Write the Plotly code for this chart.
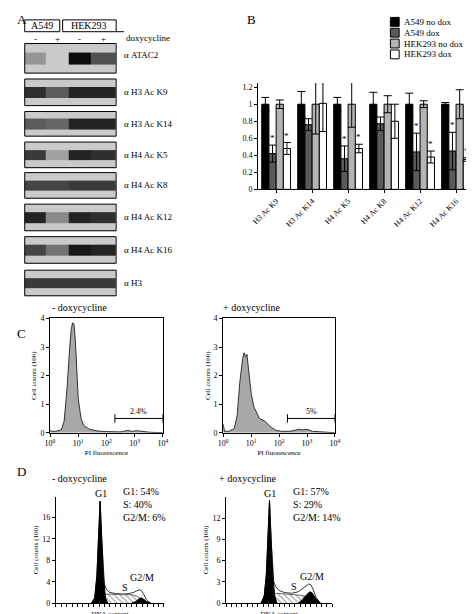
import plotly.graph_objects as go

W, H = 474, 614
SERIF = "Liberation Serif"

# ---------- Panel A data (blot band intensities, lanes: A549 -, A549 +, HEK293 -, HEK293 +)
blot_labels = ["α ATAC2", "α H3 Ac K9", "α H3 Ac K14", "α H4 Ac K5", "α H4 Ac K8", "α H4 Ac K12", "α H4 Ac K16", "α H3"]
blot_bands = [
    [0.35, 0.12, 0.95, 0.65],
    [0.8, 0.6, 0.85, 0.85],
    [0.6, 0.55, 0.85, 0.85],
    [0.75, 0.3, 0.85, 0.8],
    [0.7, 0.7, 0.75, 0.75],
    [0.85, 0.4, 0.85, 0.8],
    [0.7, 0.5, 0.9, 0.85],
    [0.75, 0.75, 0.75, 0.75],
]
lane_signs = ["-", "+", "-", "+"]

# ---------- Panel B data
categories = ["H3 Ac K9", "H3 Ac K14", "H4 Ac K5", "H4 Ac K8", "H4 Ac K12", "H4 Ac K16"]
series_names = ["A549 no dox", "A549 dox", "HEK293 no dox", "HEK293 dox"]
series_vals = [
    [1, 1, 1, 1, 1, 1],
    [0.42, 0.76, 0.36, 0.77, 0.44, 0.45],
    [1, 1, 1, 1, 1, 1],
    [0.48, 1.01, 0.48, 0.8, 0.38, 0.35],
]
series_err = [
    [0.08, 0.15, 0.08, 0.14, 0.13, 0.02],
    [0.1, 0.07, 0.15, 0.08, 0.22, 0.22],
    [0.05, 0.35, 0.27, 0.1, 0.04, 0.17],
    [0.07, 0.33, 0.05, 0.2, 0.07, 0.02],
]
series_colors = ["#000000", "#5a5a5a", "#b4b4b4", "#ffffff"]
starred = [True, False, True, False, True, True]

# ---------- Panel C data (log10 PI fluorescence, counts/100)
c_left_lx = [0, 0.05, 0.2, 0.4, 0.5, 0.6, 0.7, 0.75, 0.8, 0.85, 0.9, 0.95, 1.0, 1.1, 1.2, 1.4, 1.7, 2.0, 2.5, 2.75, 2.9, 3.1, 3.5, 4]
c_left_y = [0.1, 0.05, 0.05, 0.1, 0.4, 1.5, 3.0, 3.6, 3.85, 3.8, 3.2, 2.0, 1.2, 0.5, 0.25, 0.12, 0.06, 0.04, 0.03, 0.08, 0.05, 0.07, 0.02, 0]
c_right_lx = [0, 0.05, 0.2, 0.4, 0.5, 0.6, 0.7, 0.75, 0.8, 0.85, 0.9, 1.0, 1.1, 1.2, 1.3, 1.5, 1.7, 1.9, 2.1, 2.4, 2.6, 2.7, 2.85, 3.0, 3.2, 3.5, 4]
c_right_y = [0.3, 0.05, 0.05, 0.15, 0.6, 1.8, 2.6, 2.8, 2.65, 2.75, 2.3, 1.4, 0.9, 0.7, 0.5, 0.4, 0.2, 0.08, 0.05, 0.05, 0.1, 0.12, 0.1, 0.12, 0.05, 0.03, 0]
c_gate_lx = [2.3, 4]
c_gate_y = 0.5
c_labels = ["2.4%", "5%"]
c_tickvals = [1, 10, 100, 1000, 10000]
c_ticktext = ["10<sup>0</sup>", "10<sup>1</sup>", "10<sup>2</sup>", "10<sup>3</sup>", "10<sup>4</sup>"]

# ---------- Panel D data (DNA content 0-100, counts/100)
dL_tot_x = [33, 36, 38, 39.5, 41, 42.5, 44, 45, 47, 50, 55, 62, 68, 72, 75, 77, 79, 81, 84, 88]
dL_tot_y = [0, 1, 5, 12, 19, 12, 5, 3.5, 2.5, 2.0, 1.8, 1.7, 1.8, 2.0, 2.3, 2.5, 2.4, 1.8, 0.6, 0]
dL_g1_x = [33, 36, 38, 39.5, 41, 42.5, 44, 46, 48]
dL_g1_y = [0, 1, 5, 12, 19, 12, 5, 1, 0]
dL_s_x = [38, 44, 48, 55, 62, 68, 72, 76, 80, 84]
dL_s_y = [0, 1.6, 1.7, 1.6, 1.6, 1.6, 1.5, 1.2, 0.6, 0]
dL_g2_x = [70, 74, 77, 79, 81, 84, 88]
dL_g2_y = [0, 0.3, 0.8, 1.0, 0.8, 0.3, 0]

dR_tot_x = [33, 36, 38, 39.5, 41, 42.5, 44, 45, 47, 50, 55, 62, 68, 72, 75, 78, 80, 82, 85, 89]
dR_tot_y = [0, 1, 4, 9, 14.5, 9, 4, 3, 2.3, 1.8, 1.5, 1.4, 1.6, 2.0, 2.4, 2.7, 2.6, 2.0, 0.8, 0]
dR_g1_x = [33, 36, 38, 39.5, 41, 42.5, 44, 46, 48]
dR_g1_y = [0, 1, 4, 9, 14.5, 9, 4, 1, 0]
dR_s_x = [38, 44, 48, 55, 62, 68, 72, 76, 80, 84]
dR_s_y = [0, 1.3, 1.4, 1.3, 1.2, 1.2, 1.1, 0.9, 0.5, 0]
dR_g2_x = [68, 72, 76, 79, 81, 84, 89]
dR_g2_y = [0, 0.5, 1.2, 1.6, 1.5, 0.8, 0]
d_stats = ["G1: 54%<br>S: 40%<br>G2/M: 6%", "G1: 57%<br>S: 29%<br>G2/M: 14%"]

fig = go.Figure()

def px_x(x): return x / W
def px_y(y): return 1 - y / H

ax_font = dict(family=SERIF, size=8, color="black")

# ---------- Panel A: pixel-space axes
blot_rows = [(32, 62), (68, 95), (101, 126), (132, 158), (163, 189), (195, 222), (228, 255), (262, 288)]
lane_edges = [10, 32, 55, 78, 104]
for (top, bot), bands in zip(blot_rows, blot_bands):
    h = bot - top
    fig.add_trace(go.Heatmap(
        x=lane_edges, y=[top, top + 0.3 * h, top + 0.72 * h, bot],
        z=[[0.12] * 4, bands, [0.12] * 4],
        zmin=0, zmax=1, colorscale=[[0, "#e6e6e6"], [1, "#000000"]],
        showscale=False, xaxis="x9", yaxis="y9", hoverinfo="skip"))
    fig.add_shape(type="rect", x0=10, x1=104, y0=top, y1=bot, xref="x9", yref="y9",
                  line=dict(color="black", width=1))

def pnote(x, y, t, size=9, xanchor="left", yanchor="middle"):
    fig.add_annotation(x=x, y=y, text=t, xref="x9", yref="y9", showarrow=False, xanchor=xanchor,
                       yanchor=yanchor, align="left", font=dict(family=SERIF, size=size, color="black"))

for lab, (top, bot) in zip(blot_labels, blot_rows):
    pnote(110, (top + bot) / 2 + (-3 if lab == "α ATAC2" else 0), lab)
for i, s in enumerate(lane_signs):
    pnote((lane_edges[i] + lane_edges[i + 1]) / 2, 27, s, xanchor="center")
pnote(112, 26, "doxycycline")
for x0, x1, t in [(10, 46, "A549"), (49, 104, "HEK293")]:
    fig.add_shape(type="rect", x0=x0, x1=x1, y0=8, y1=20, xref="x9", yref="y9", line=dict(color="black", width=1))
    pnote((x0 + x1) / 2, 14, t, size=10, xanchor="center")
fig.add_shape(type="line", x0=104, x1=112, y0=20, y1=20, xref="x9", yref="y9", line=dict(color="black", width=1))
for letter, x, y in [("A", 0, 8), ("B", 236, 8), ("C", 0, 326), ("D", 0, 466)]:
    pnote(x, y, letter, size=13)

# ---------- Panel B
for name, vals, errs, col in zip(series_names, series_vals, series_err, series_colors):
    fig.add_trace(go.Bar(x=categories, y=vals, name=name, marker=dict(color=col, line=dict(color="black", width=1)),
                         error_y=dict(type="data", array=errs, color="black", thickness=1, width=4),
                         xaxis="x", yaxis="y", showlegend=False))
for ci, (cat, st) in enumerate(zip(categories, starred)):
    if st:
        for si, off in [(1, -0.11), (3, 0.28)]:
            fig.add_annotation(x=ci + off, y=series_vals[si][ci] + series_err[si][ci], text="*",
                               xref="x", yref="y", showarrow=False, font=dict(family=SERIF, size=9), yanchor="bottom")
# manual compact legend
for i, (name, col) in enumerate(zip(series_names, series_colors)):
    yc = 10 + 11 * i
    fig.add_shape(type="rect", x0=386, x1=395, y0=yc - 4.5, y1=yc + 4.5, xref="x9", yref="y9",
                  fillcolor=col, line=dict(color="black", width=1))
    pnote(398, yc, name, size=9)

# ---------- Panel C
for xa, ya, lx, yy, lab in [("x2", "y2", c_left_lx, c_left_y, c_labels[0]), ("x3", "y3", c_right_lx, c_right_y, c_labels[1])]:
    fig.add_trace(go.Scatter(x=[10 ** v for v in lx], y=yy, mode="lines", fill="tozeroy",
                             fillcolor="#a8a8a8", line=dict(color="#333", width=1), xaxis=xa, yaxis=ya, showlegend=False))
    fig.add_trace(go.Scatter(x=[10 ** v for v in c_gate_lx], y=[c_gate_y] * 2, mode="lines+markers",
                             marker=dict(symbol="line-ns", size=6, line=dict(width=1, color="black")),
                             line=dict(color="black", width=1), xaxis=xa, yaxis=ya, showlegend=False))
    fig.add_annotation(x=3.15, y=c_gate_y, text=lab, xref=xa, yref=ya, showarrow=False, yanchor="bottom",
                       font=dict(family=SERIF, size=8))

# ---------- Panel D
for xa, ya, tx, ty, gx, gy, sx, sy, g2x, g2y in [
    ("x4", "y4", dL_tot_x, dL_tot_y, dL_g1_x, dL_g1_y, dL_s_x, dL_s_y, dL_g2_x, dL_g2_y),
    ("x5", "y5", dR_tot_x, dR_tot_y, dR_g1_x, dR_g1_y, dR_s_x, dR_s_y, dR_g2_x, dR_g2_y)]:
    fig.add_trace(go.Scatter(x=tx, y=ty, mode="lines", fill="tozeroy", fillcolor="white",
                             line=dict(color="#333", width=1), xaxis=xa, yaxis=ya, showlegend=False))
    fig.add_trace(go.Scatter(x=sx, y=sy, mode="lines", fill="tozeroy", fillcolor="white",
                             fillpattern=dict(shape="\\", fgcolor="#444", size=4, solidity=0.3),
                             line=dict(color="#444", width=0.8), xaxis=xa, yaxis=ya, showlegend=False))
    for X, Y in [(gx, gy), (g2x, g2y)]:
        fig.add_trace(go.Scatter(x=X, y=Y, mode="lines", fill="tozeroy", fillcolor="black",
                                 line=dict(color="black", width=1), xaxis=xa, yaxis=ya, showlegend=False))

def annot(xa, ya, x, y, t, size=10):
    fig.add_annotation(x=x, y=y, text=t, xref=xa, yref=ya, showarrow=False,
                       font=dict(family=SERIF, size=size))

pnote(88, 489, "G1", size=10, xanchor="center")
pnote(109, 500, d_stats[0], size=10)
annot("x4", "y4", 64, 3.0, "S")
annot("x4", "y4", 80, 4.8, "G2/M")
pnote(262, 489, "G1", size=10, xanchor="center")
pnote(284, 500, d_stats[1], size=10)
annot("x5", "y5", 64, 2.4, "S")
annot("x5", "y5", 81, 3.8, "G2/M")

for t, x, y in [("- doxycycline", 36, 300), ("+ doxycycline", 212, 300), ("- doxycycline", 36, 473), ("+ doxycycline", 208, 473)]:
    pnote(x, y, t, size=10)

common = dict(showline=True, linecolor="black", linewidth=1, ticks="outside", ticklen=3, tickcolor="black",
              tickfont=ax_font, showgrid=False, zeroline=False)
cty = dict(text="Cell counts (100)", font=dict(family=SERIF, size=7), standoff=2)
pif = dict(text="PI fluorescence", font=dict(family=SERIF, size=7), standoff=2)
dnat = dict(text="DNA content", font=dict(family=SERIF, size=7), standoff=4)
layout = dict(
    width=W, height=H, margin=dict(l=0, r=0, t=0, b=0), paper_bgcolor="white", plot_bgcolor="rgba(0,0,0,0)",
    font=dict(family=SERIF, color="black"), showlegend=False,
    barmode="group", bargap=0.2, bargroupgap=0,
    xaxis=dict(domain=[px_x(250), px_x(472)], anchor="y", tickangle=-45, **common),
    yaxis=dict(domain=[px_y(180), px_y(72)], anchor="x", range=[0, 1.25], tickvals=[0, 0.2, 0.4, 0.6, 0.8, 1, 1.2],
               ticktext=["0", "0.2", "0.4", "0.6", "0.8", "1", "1.2"], **common),
    xaxis2=dict(domain=[px_x(36), px_x(152)], anchor="y2", type="log", range=[0, 4],
                tickvals=c_tickvals, ticktext=c_ticktext, mirror=True, title=pif, **common),
    yaxis2=dict(domain=[px_y(427), px_y(311)], anchor="x2", range=[0, 4], dtick=1, mirror=True, title=cty, **common),
    xaxis3=dict(domain=[px_x(214), px_x(329)], anchor="y3", type="log", range=[0, 4],
                tickvals=c_tickvals, ticktext=c_ticktext, mirror=True, title=pif, **common),
    yaxis3=dict(domain=[px_y(427), px_y(311)], anchor="x3", range=[0, 4], dtick=1, mirror=True, title=cty, **common),
    xaxis4=dict(domain=[px_x(42), px_x(153)], anchor="y4", range=[0, 100], showticklabels=False, dtick=5,
                title=dnat, **common),
    yaxis4=dict(domain=[px_y(600), px_y(492)], anchor="x4", range=[0, 19.8], tickvals=[0, 4, 8, 12, 16], title=cty, **common),
    xaxis5=dict(domain=[px_x(217), px_x(326)], anchor="y5", range=[0, 100], showticklabels=False, dtick=5,
                title=dnat, **common),
    yaxis5=dict(domain=[px_y(600), px_y(492)], anchor="x5", range=[0, 15], tickvals=[0, 3, 6, 9, 12], title=cty, **common),
    xaxis9=dict(domain=[0, 1], anchor="y9", range=[0, W], visible=False),
    yaxis9=dict(domain=[0, 1], anchor="x9", range=[H, 0], visible=False),
)
fig.update_layout(**layout)
fig.write_html("out.html")
